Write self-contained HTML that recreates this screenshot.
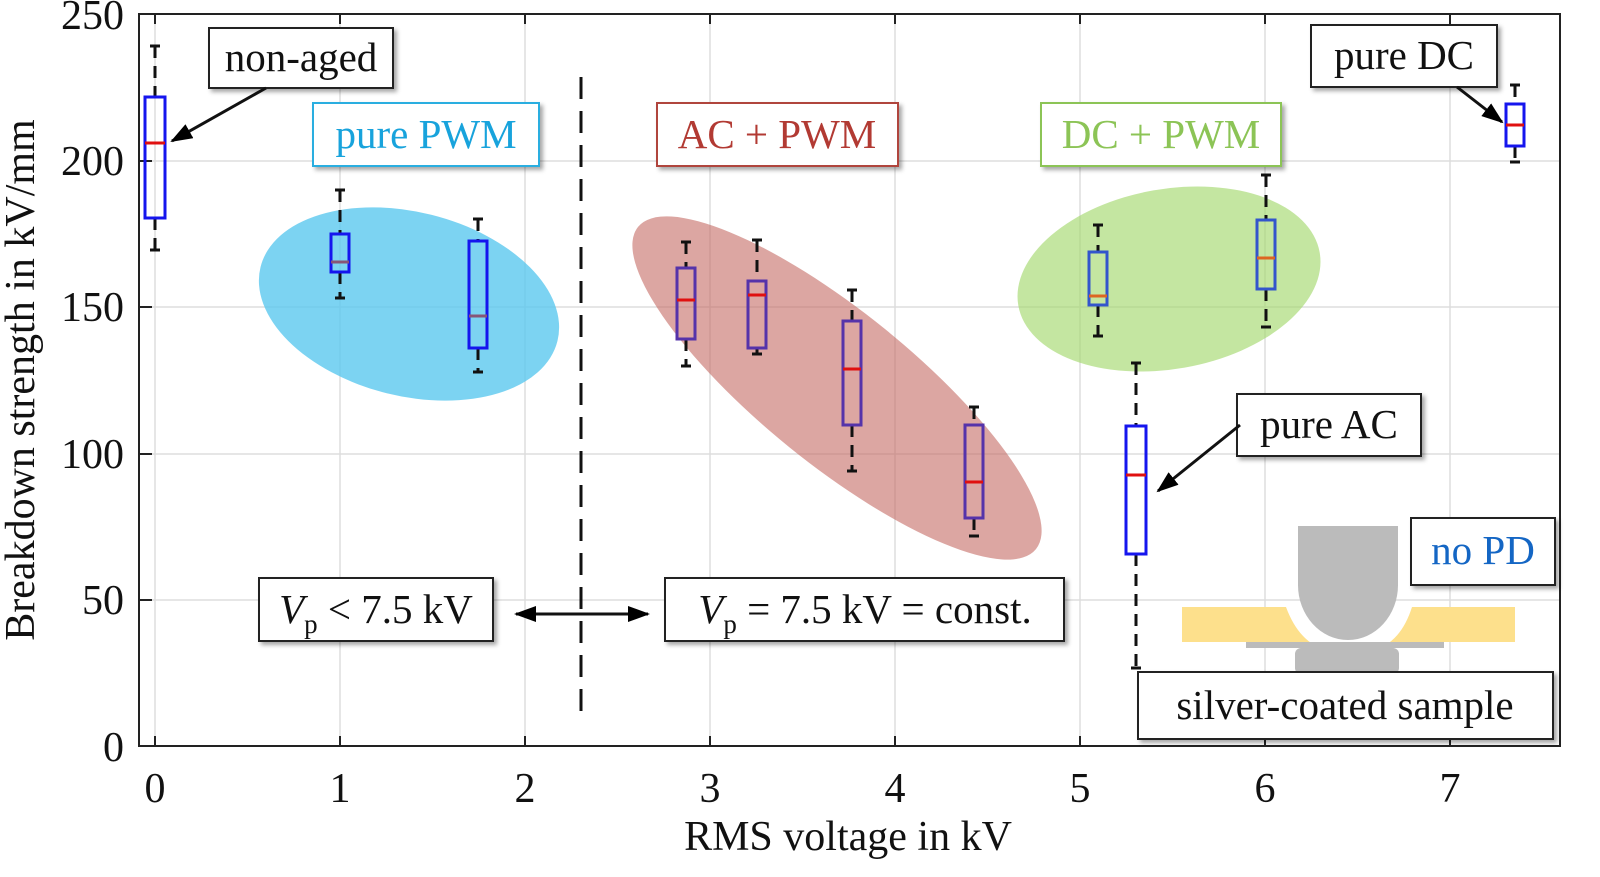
<!DOCTYPE html>
<html><head><style>body{margin:0;background:#fff}svg{display:block}text{font-family:"Liberation Serif",serif}</style></head>
<body>
<svg width="1600" height="877" viewBox="0 0 1600 877" xmlns="http://www.w3.org/2000/svg">
<defs>
<marker id="ah2" markerWidth="22" markerHeight="16" refX="20" refY="8" orient="auto-start-reverse" markerUnits="userSpaceOnUse"><path d="M0,0L22,8L0,16z" fill="#000"/></marker>
<filter id="sh" x="-10%" y="-10%" width="130%" height="140%"><feDropShadow dx="3" dy="3" stdDeviation="2" flood-color="#000" flood-opacity="0.35"/></filter>
</defs>
<g stroke="#ddd" stroke-width="1.5">
<line x1="340" y1="14" x2="340" y2="746"/><line x1="525" y1="14" x2="525" y2="746"/><line x1="710" y1="14" x2="710" y2="746"/><line x1="895" y1="14" x2="895" y2="746"/><line x1="1080" y1="14" x2="1080" y2="746"/><line x1="1265" y1="14" x2="1265" y2="746"/><line x1="1450" y1="14" x2="1450" y2="746"/><line x1="155" y1="14" x2="155" y2="746"/>
<line x1="139" y1="161" x2="1560" y2="161"/><line x1="139" y1="307" x2="1560" y2="307"/><line x1="139" y1="454" x2="1560" y2="454"/><line x1="139" y1="600" x2="1560" y2="600"/>
</g>
<rect x="139" y="14" width="1421" height="732" fill="none" stroke="#222" stroke-width="2"/>
<g stroke="#222" stroke-width="2">
<line x1="155" y1="746" x2="155" y2="736"/><line x1="340" y1="746" x2="340" y2="736"/><line x1="525" y1="746" x2="525" y2="736"/><line x1="710" y1="746" x2="710" y2="736"/><line x1="895" y1="746" x2="895" y2="736"/><line x1="1080" y1="746" x2="1080" y2="736"/><line x1="1265" y1="746" x2="1265" y2="736"/><line x1="1450" y1="746" x2="1450" y2="736"/>
<line x1="155" y1="14" x2="155" y2="24"/><line x1="340" y1="14" x2="340" y2="24"/><line x1="525" y1="14" x2="525" y2="24"/><line x1="710" y1="14" x2="710" y2="24"/><line x1="895" y1="14" x2="895" y2="24"/><line x1="1080" y1="14" x2="1080" y2="24"/><line x1="1265" y1="14" x2="1265" y2="24"/><line x1="1450" y1="14" x2="1450" y2="24"/>
<line x1="139" y1="161" x2="152" y2="161"/><line x1="139" y1="307" x2="152" y2="307"/><line x1="139" y1="454" x2="152" y2="454"/><line x1="139" y1="600" x2="152" y2="600"/>
</g>
<g font-size="42" fill="#111" text-anchor="end">
<text x="124" y="29">250</text><text x="124" y="175">200</text><text x="124" y="321">150</text><text x="124" y="468">100</text><text x="124" y="614">50</text><text x="124" y="761">0</text>
</g>
<g font-size="42" fill="#111" text-anchor="middle">
<text x="155" y="802">0</text><text x="340" y="802">1</text><text x="525" y="802">2</text><text x="710" y="802">3</text><text x="895" y="802">4</text><text x="1080" y="802">5</text><text x="1265" y="802">6</text><text x="1450" y="802">7</text>
<text x="848" y="850">RMS voltage in kV</text>
<text transform="translate(34,380) rotate(-90)">Breakdown strength in kV/mm</text>
</g>
<ellipse cx="409" cy="304" rx="153" ry="92" transform="rotate(14 409 304)" fill="#5bc8ef" fill-opacity="0.8"/>
<ellipse cx="837" cy="388" rx="256" ry="76" transform="rotate(39 837 388)" fill="#c56a64" fill-opacity="0.6"/>
<ellipse cx="1169" cy="279" rx="153" ry="90" transform="rotate(-10 1169 279)" fill="#a4d86e" fill-opacity="0.65"/>
<g stroke-width="3">
<g stroke="#111" stroke-dasharray="12,8">
<line x1="155" y1="46" x2="155" y2="97"/><line x1="155" y1="218" x2="155" y2="250"/>
<line x1="340" y1="190" x2="340" y2="234"/><line x1="340" y1="272" x2="340" y2="298"/>
<line x1="478" y1="219" x2="478" y2="241"/><line x1="478" y1="348" x2="478" y2="372"/>
<line x1="686" y1="242" x2="686" y2="268"/><line x1="686" y1="339" x2="686" y2="366"/>
<line x1="757" y1="240" x2="757" y2="281"/><line x1="757" y1="348" x2="757" y2="354"/>
<line x1="852" y1="290" x2="852" y2="321"/><line x1="852" y1="425" x2="852" y2="471"/>
<line x1="974" y1="407" x2="974" y2="425"/><line x1="974" y1="518" x2="974" y2="536"/>
<line x1="1098" y1="225" x2="1098" y2="252"/><line x1="1098" y1="305" x2="1098" y2="336"/>
<line x1="1266" y1="175" x2="1266" y2="220"/><line x1="1266" y1="289" x2="1266" y2="327"/>
<line x1="1136" y1="363" x2="1136" y2="426"/><line x1="1136" y1="554" x2="1136" y2="668"/>
<line x1="1515" y1="85" x2="1515" y2="104"/><line x1="1515" y1="146" x2="1515" y2="162"/>
</g>
<g stroke="#111">
<line x1="150" y1="46" x2="160" y2="46"/><line x1="150" y1="250" x2="160" y2="250"/>
<line x1="335" y1="190" x2="345" y2="190"/><line x1="335" y1="298" x2="345" y2="298"/>
<line x1="473" y1="219" x2="483" y2="219"/><line x1="473" y1="372" x2="483" y2="372"/>
<line x1="681" y1="242" x2="691" y2="242"/><line x1="681" y1="366" x2="691" y2="366"/>
<line x1="752" y1="240" x2="762" y2="240"/><line x1="752" y1="354" x2="762" y2="354"/>
<line x1="847" y1="290" x2="857" y2="290"/><line x1="847" y1="471" x2="857" y2="471"/>
<line x1="969" y1="407" x2="979" y2="407"/><line x1="969" y1="536" x2="979" y2="536"/>
<line x1="1093" y1="225" x2="1103" y2="225"/><line x1="1093" y1="336" x2="1103" y2="336"/>
<line x1="1261" y1="175" x2="1271" y2="175"/><line x1="1261" y1="327" x2="1271" y2="327"/>
<line x1="1131" y1="363" x2="1141" y2="363"/><line x1="1131" y1="668" x2="1141" y2="668"/>
<line x1="1510" y1="85" x2="1520" y2="85"/><line x1="1510" y1="162" x2="1520" y2="162"/>
</g>
<g fill="none" stroke="#1515ee">
<rect x="145" y="97" width="20" height="121"/><rect x="331" y="234" width="18" height="38"/><rect x="469" y="241" width="18" height="107"/>
<rect x="677" y="268" width="18" height="71" stroke="#5533aa"/><rect x="748" y="281" width="18" height="67" stroke="#5533aa"/><rect x="843" y="321" width="18" height="104" stroke="#5533aa"/><rect x="965" y="425" width="18" height="93" stroke="#5533aa"/>
<rect x="1089" y="252" width="18" height="53" stroke="#3355cc"/><rect x="1257" y="220" width="18" height="69" stroke="#3355cc"/>
<rect x="1126" y="426" width="20" height="128"/><rect x="1506" y="104" width="18" height="42"/>
</g>
<g stroke="#e01010">
<line x1="145" y1="143" x2="165" y2="143"/><line x1="331" y1="262" x2="349" y2="262" stroke="#885577"/><line x1="469" y1="316" x2="487" y2="316" stroke="#885577"/>
<line x1="677" y1="300" x2="695" y2="300"/><line x1="748" y1="295" x2="766" y2="295"/><line x1="843" y1="369" x2="861" y2="369"/><line x1="965" y1="482" x2="983" y2="482"/>
<line x1="1089" y1="296" x2="1107" y2="296" stroke="#dd6622"/><line x1="1257" y1="258" x2="1275" y2="258" stroke="#dd6622"/>
<line x1="1126" y1="475" x2="1146" y2="475"/><line x1="1506" y1="125" x2="1524" y2="125"/>
</g>
</g>
<line x1="581" y1="77" x2="581" y2="718" stroke="#111" stroke-width="3" stroke-dasharray="22,12"/>
<rect x="1298" y="526" width="100" height="60" fill="#bbb"/>
<path d="M1298,585 A50,55 0 0 0 1398,585 Z" fill="#bbb"/>
<path d="M1182,607 L1286,607 Q1300,645 1330,651 L1370,651 Q1400,645 1412,607 L1515,607 L1515,642 L1182,642 Z" fill="#fde08c"/>
<rect x="1246" y="642" width="198" height="6" fill="#bbb"/>
<rect x="1295" y="648" width="104" height="26" rx="6" fill="#bbb"/>
<g filter="url(#sh)" stroke-width="2">
<rect x="209" y="28" width="184" height="60" fill="#fff" stroke="#222"/>
<rect x="313" y="103" width="226" height="63" fill="#fff" stroke="#29aee0"/>
<rect x="657" y="103" width="241" height="63" fill="#fff" stroke="#b0443d"/>
<rect x="1041" y="103" width="240" height="63" fill="#fff" stroke="#8cc456"/>
<rect x="1311" y="25" width="186" height="62" fill="#fff" stroke="#222"/>
<rect x="1237" y="394" width="184" height="62" fill="#fff" stroke="#222"/>
<rect x="259" y="578" width="234" height="63" fill="#fff" stroke="#222"/>
<rect x="665" y="578" width="399" height="63" fill="#fff" stroke="#222"/>
<rect x="1411" y="518" width="144" height="67" fill="#fff" stroke="#222"/>
<rect x="1138" y="672" width="415" height="67" fill="#fff" stroke="#222"/>
</g>
<g font-size="41" text-anchor="middle">
<text x="301" y="71" fill="#111">non-aged</text>
<text x="426" y="148" fill="#18a3dc">pure PWM</text>
<text x="777" y="148" fill="#b23a33">AC + PWM</text>
<text x="1161" y="148" fill="#8cc456">DC + PWM</text>
<text x="1404" y="69" fill="#111">pure DC</text>
<text x="1329" y="438" fill="#111">pure AC</text>
<text x="376" y="623" fill="#111"><tspan font-style="italic">V</tspan><tspan font-size="27" dy="10">p</tspan><tspan dy="-10"> &lt; 7.5 kV</tspan></text>
<text x="865" y="623" fill="#111"><tspan font-style="italic">V</tspan><tspan font-size="27" dy="10">p</tspan><tspan dy="-10"> = 7.5 kV = const.</tspan></text>
<text x="1483" y="564" fill="#1466c4">no PD</text>
<text x="1345" y="719" fill="#111">silver-coated sample</text>
</g>
<g stroke="#111" stroke-width="3" fill="none">
<line x1="266" y1="88" x2="172" y2="141" marker-end="url(#ah2)"/>
<line x1="1457" y1="87" x2="1502" y2="122" marker-end="url(#ah2)"/>
<line x1="1240" y1="425" x2="1158" y2="491" marker-end="url(#ah2)"/>
<line x1="516" y1="614" x2="648" y2="614" marker-start="url(#ah2)" marker-end="url(#ah2)"/>
</g>
</svg>
</body></html>
